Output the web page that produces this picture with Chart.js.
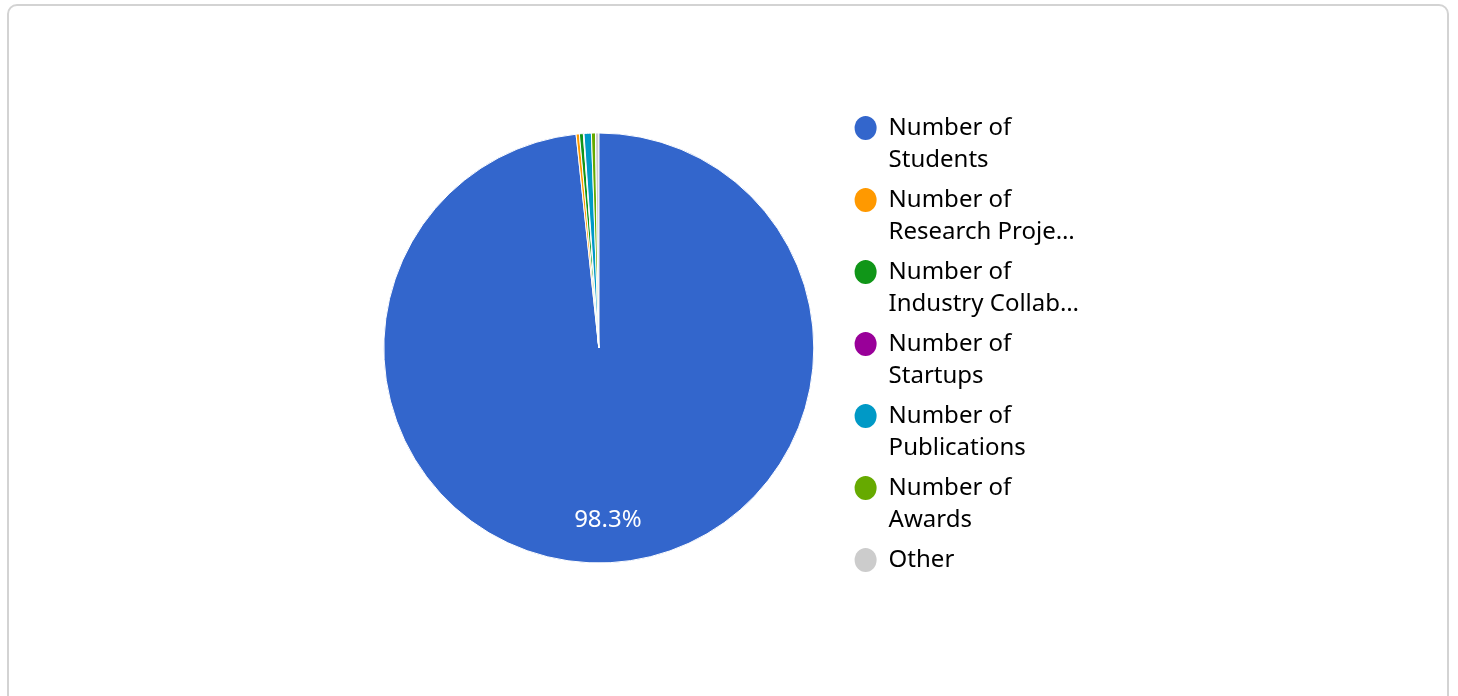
<!DOCTYPE html>
<html lang="en">
<head>
<meta charset="UTF-8">
<title>Pie</title>
<script src="https://cdn.jsdelivr.net/npm/chart.js@4.4.1/dist/chart.umd.min.js"></script>
<style>
  html, body { margin: 0; padding: 0; background: #fff; }
  .card {
    position: absolute; left: 7px; top: 4px; width: 1442px; height: 720px;
    border: 2px solid #d3d3d3; border-radius: 10px; box-sizing: border-box;
  }
  .wrap { position: absolute; left: 0; top: 0; width: 1438px; height: 692px; }
</style>
</head>
<body>
<div class="card"><div class="wrap"><canvas id="pie"></canvas></div></div>
<script>
// values
const categories = ["Number of Students", "Number of Research Projects", "Number of Industry Collaborations",
  "Number of Startups", "Number of Publications", "Number of Awards", "Other"];
const legendLines = [["Number of", "Students"], ["Number of", "Research Proje…"], ["Number of", "Industry Collab…"],
  ["Number of", "Startups"], ["Number of", "Publications"], ["Number of", "Awards"], ["Other"]];
const values = [12000, 30, 36, 6, 67, 37, 30];
const colors = ["#3366CC", "#FF9900", "#109618", "#990099", "#0099C6", "#66AA00", "#CCCCCC"];

const pctLabels = {
  id: "pctLabels",
  afterDatasetsDraw(chart) {
    const ctx = chart.ctx;
    const meta = chart.getDatasetMeta(0);
    const total = values.reduce((a, b) => a + b, 0);
    ctx.save();
    ctx.font = "24px 'Noto Sans'";
    ctx.fillStyle = "#fff";
    ctx.textAlign = "center";
    ctx.textBaseline = "middle";
    meta.data.forEach((arc, i) => {
      const p = values[i] / total * 100;
      if (p < 5) return;
      const mid = (arc.startAngle + arc.endAngle) / 2;
      const r = arc.outerRadius * 0.8;
      ctx.fillText(p.toFixed(1) + "%", arc.x + Math.cos(mid) * r, arc.y + Math.sin(mid) * r);
    });
    ctx.restore();
  }
};

new Chart(document.getElementById("pie"), {
  type: "pie",
  data: {
    labels: categories,
    datasets: [{ data: values, backgroundColor: colors, borderColor: "#fff", borderWidth: 1, radius: 215 }]
  },
  options: {
    responsive: true,
    maintainAspectRatio: false,
    animation: false,
    layout: { padding: { left: 342, right: 358, top: 0, bottom: 8 } },
    plugins: {
      tooltip: { enabled: false },
      legend: {
        position: "right",
        labels: {
          usePointStyle: true,
          pointStyle: "circle",
          pointStyleWidth: 22,
          boxHeight: 17,
          padding: 8,
          color: "#222",
          font: { family: "'Noto Sans'", size: 24, lineHeight: 1.333 },
          generateLabels(chart) {
            return legendLines.map((t, i) => ({
              text: t, fillStyle: colors[i], strokeStyle: colors[i], lineWidth: 0,
              pointStyle: "circle", hidden: false, index: i
            }));
          }
        }
      }
    }
  },
  plugins: [pctLabels]
});
</script>
</body>
</html>
